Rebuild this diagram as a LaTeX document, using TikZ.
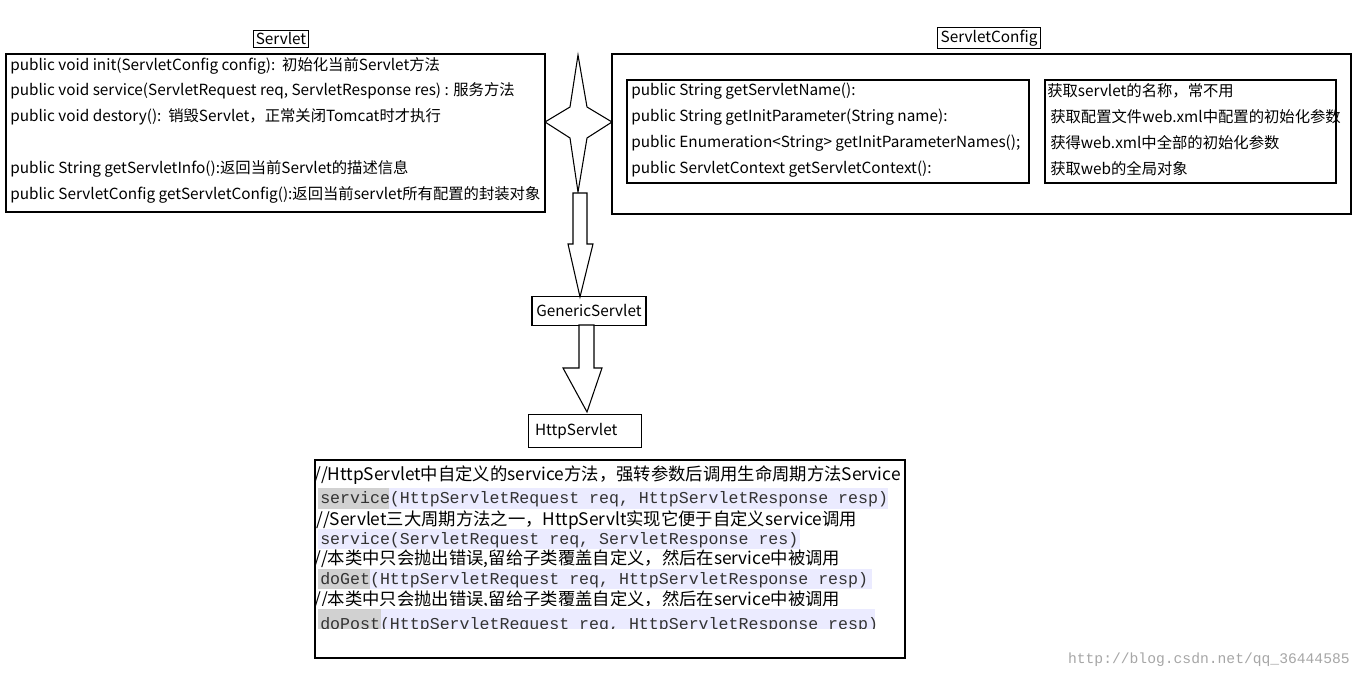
\documentclass[tikz,border=0pt]{standalone}
\usepackage{fontspec}
\setmainfont{Noto Sans CJK SC}
\setmonofont{Liberation Mono}
\begin{document}
\begin{tikzpicture}[x=0.75pt,y=-0.75pt,
  box/.style={draw,thick,inner sep=0pt},
  lbl/.style={draw,thick,font=\fontsize{11.5}{13}\selectfont,inner sep=2pt},
  txt/.style={anchor=west,inner sep=0pt,font=\fontsize{11.5}{12}\selectfont},
  big/.style={anchor=west,inner sep=0pt,font=\fontsize{13}{14}\selectfont},
  code/.style={anchor=west,inner sep=0pt,font=\ttfamily\fontsize{12.45}{14}\selectfont,text=black!80},
  hl/.style={fill=blue!8,draw=none},
  hg/.style={fill=black!18,draw=none}]
\useasboundingbox (0,0) rectangle (1361,680);
% Servlet
\node[lbl] (servletlbl) at (281,39) {Servlet};
\draw[thick] (6,54) rectangle (545,212);
\node[txt] (s1) at (10,66) {public void init(ServletConfig config):\ \ 初始化当前Servlet方法};
\node[txt] (s2) at (10,91) {public void service(ServletRequest req, ServletResponse res) : 服务方法};
\node[txt] (s3) at (10,117) {public void destory():\ \ 销毁Servlet，正常关闭Tomcat时才执行};
\node[txt] (s4) at (10,169) {public String getServletInfo():返回当前Servlet的描述信息};
\node[txt] (s5) at (10,195) {public ServletConfig getServletConfig():返回当前servlet所有配置的封装对象};
% star
\draw[thick,fill=white] (578,55) -- (587,107) -- (612,122) -- (587,138) -- (578,192) -- (570,138) -- (545,122) -- (570,107) -- cycle;
% ServletConfig
\node[lbl] (cfglbl) at (989,38) {ServletConfig};
\draw[thick] (612,54) rectangle (1351,214);
\draw[thick] (627,80) rectangle (1029,183);
\draw[thick] (1045,80) rectangle (1336,183);
\node[txt] (c1) at (631,91) {public String getServletName():};
\node[txt] (c2) at (631,117) {public String getInitParameter(String name):};
\node[txt] (c3) at (631,143) {public Enumeration<String> getInitParameterNames();};
\node[txt] (c4) at (631,169) {public ServletContext getServletContext():};
\node[txt] (d1) at (1047,91) {获取servlet的名称，常不用};
\node[txt] (d2) at (1050,117) {获取配置文件web.xml中配置的初始化参数};
\node[txt] (d3) at (1050,143) {获得web.xml中全部的初始化参数};
\node[txt] (d4) at (1050,169) {获取web的全局对象};
% arrows
\draw[thick,fill=white] (573,193) -- (587,193) -- (587,244) -- (593,244) -- (580,297) -- (568,244) -- (573,244) -- cycle;
\node[lbl,minimum width=114*0.75pt,minimum height=29*0.75pt] (gen) at (589,311) {GenericServlet};
\draw[thick,fill=white] (579,325) -- (594,325) -- (594,368) -- (602,368) -- (587,412) -- (563,368) -- (579,368) -- cycle;
\node[lbl,minimum width=113*0.75pt,minimum height=33*0.75pt,text width=100*0.75pt] (http) at (585,431) {HttpServlet};
% bottom box
\draw[thick] (315,460) rectangle (905,658);
\node[big] (b1) at (314,475) {//HttpServlet中自定义的service方法，强转参数后调用生命周期方法Service};
\fill[hl] (318,488) rectangle (888,509); \fill[hg] (318,488) rectangle (389,509);
\node[code] (k1) at (320,499) {service(HttpServletRequest req, HttpServletResponse resp)};
\node[big] (b2) at (316,520) {//Servlet三大周期方法之一，HttpServlt实现它便于自定义service调用};
\fill[hl] (318,529) rectangle (800,549);
\node[code] (k2) at (320,540) {service(ServletRequest req, ServletResponse res)};
\node[big] (b3) at (314,559) {//本类中只会抛出错误,留给子类覆盖自定义，然后在service中被调用};
\fill[hl] (318,569) rectangle (872,589); \fill[hg] (318,569) rectangle (370,589);
\node[code] (k3) at (320,580) {doGet(HttpServletRequest req, HttpServletResponse resp)};
\begin{scope}
\clip (300,590) rectangle (910,606);
\node[big] (b4) at (314,600) {//本类中只会抛出错误,留给子类覆盖自定义，然后在service中被调用};
\end{scope}
\begin{scope}
\clip (300,609) rectangle (910,629);
\fill[hl] (318,609) rectangle (875,629); \fill[hg] (318,609) rectangle (381,629);
\node[code] (k4) at (320,625) {doPost(HttpServletRequest req, HttpServletResponse resp)};
\end{scope}
\node[anchor=east,inner sep=0pt,font=\ttfamily\fontsize{11}{12}\selectfont,text=black!35] (wm) at (1350,660) {http://blog.csdn.net/qq\_36444585};
\end{tikzpicture}
\end{document}
